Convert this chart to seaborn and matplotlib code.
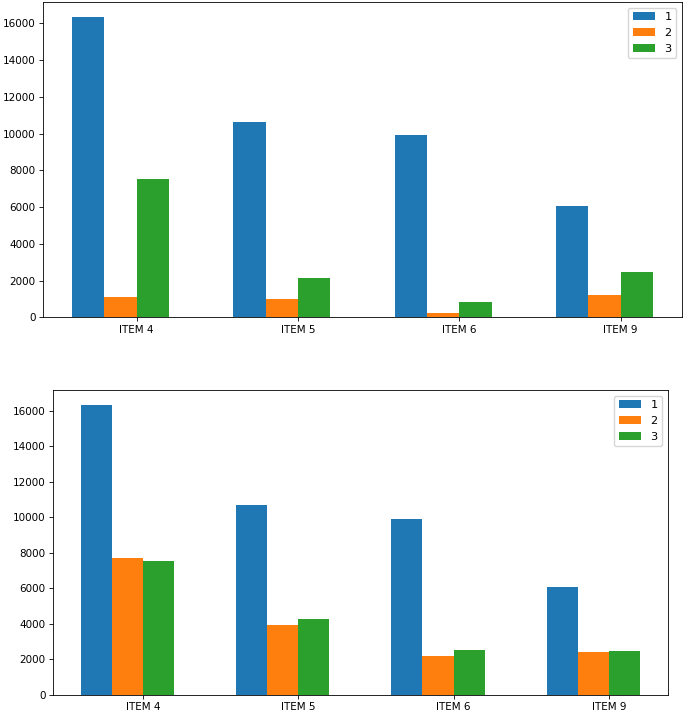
import numpy as np
import pandas as pd
import matplotlib
matplotlib.use('Agg')
import matplotlib.pyplot as plt
import seaborn as sns

# Values
items = ['ITEM 4', 'ITEM 5', 'ITEM 6', 'ITEM 9']
series_names = ['1', '2', '3']

top_s1 = [16340, 10650, 9910, 6070]
top_s2 = [1120, 980, 250, 1210]
top_s3 = [7540, 2160, 850, 2450]

bottom_s1 = [16340, 10670, 9900, 6060]
bottom_s2 = [7730, 3930, 2210, 2410]
bottom_s3 = [7540, 4290, 2550, 2450]

colors = ['#1f77b4', '#ff7f0e', '#2ca02c']


def to_long(s1, s2, s3):
    frames = []
    for name, vals in zip(series_names, [s1, s2, s3]):
        frames.append(pd.DataFrame({'item': items, 'series': name, 'value': vals}))
    return pd.concat(frames, ignore_index=True)


def draw(ax, df):
    sns.barplot(data=df, x='item', y='value', hue='series', order=items,
                hue_order=series_names, palette=colors, saturation=1,
                width=0.6, ax=ax)
    ax.set_xlabel('')
    ax.set_ylabel('')
    # ticks sit on the left edge of the third bar, like the original
    pos = np.arange(len(items))
    ax.set_xticks(pos + 0.1, items)
    ax.set_xlim(-0.3 - 0.18, len(items) - 0.7 + 0.18)
    handles, labels = ax.get_legend_handles_labels()
    ax.legend(handles, labels, loc='upper right', title=None, fontsize=8.2)


plt.rcParams.update({
    'font.size': 7.5,
    'axes.linewidth': 0.6,
    'xtick.major.size': 2.6,
    'ytick.major.size': 2.6,
    'xtick.major.width': 0.6,
    'ytick.major.width': 0.6,
    'xtick.major.pad': 2.6,
    'ytick.major.pad': 2.6,
})

fig = plt.figure(figsize=(6.85, 7.14), dpi=100)
ax_top = fig.add_axes([0.0628, 0.5556, 0.9328, 0.4416])
ax_bot = fig.add_axes([0.0769, 0.0266, 0.8983, 0.4272])

draw(ax_top, to_long(top_s1, top_s2, top_s3))
draw(ax_bot, to_long(bottom_s1, bottom_s2, bottom_s3))

ax_top.set_ylim(0, max(top_s1) * 1.05)
ax_bot.set_ylim(0, max(bottom_s1) * 1.05)

fig.savefig('out.png', dpi=100)
